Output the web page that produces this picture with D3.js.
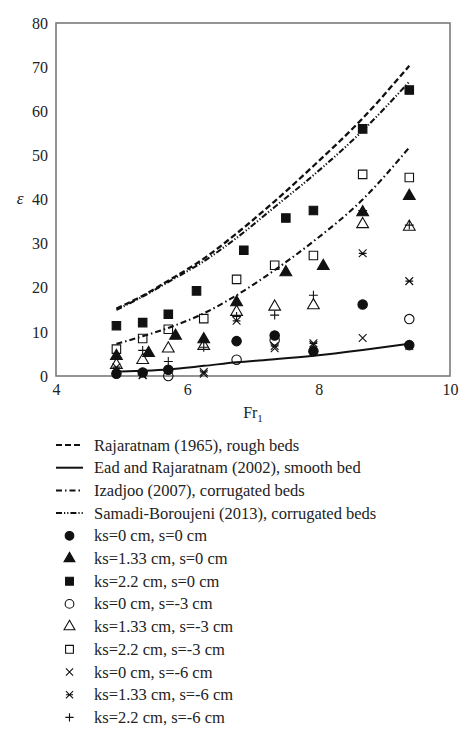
<!DOCTYPE html>
<html>
<head>
<meta charset="utf-8">
<script src="https://cdn.jsdelivr.net/npm/d3@7"></script>
<style>
  body { margin: 0; background: #fff; }
  svg text { font-family: "Liberation Serif", "Times New Roman", Times, "DejaVu Serif", serif; fill: #222; }
</style>
</head>
<body>
<svg class="chart"></svg>
<script>
// Fr1 positions of each run
var fr = [4.92, 5.32, 5.71, 6.25, 6.75, 7.33, 7.92, 8.67, 9.38];

// measured series: [Fr1, eps]
var ks0_s0    = [[4.92,0.5],[5.32,0.8],[5.71,1.4],[6.75,7.9],[7.33,9.2],[7.92,5.6],[8.67,16.2],[9.38,7.0]];
var ks133_s0  = [[4.92,4.5],[5.41,5.2],[5.82,9.1],[6.25,8.3],[6.75,16.7],[7.50,23.5],[8.07,24.9],[8.67,37.1],[9.38,40.8]];
var ks22_s0   = [[4.92,11.4],[5.32,12.1],[5.71,14.0],[6.14,19.3],[6.86,28.5],[7.50,35.8],[7.92,37.5],[8.67,56.0],[9.38,64.8]];
var ks0_s3    = [[5.71,0.0],[6.75,3.7],[7.33,8.1],[9.38,12.9]];
var ks133_s3  = [[4.92,2.5],[5.32,3.6],[5.71,6.2],[6.25,6.8],[6.75,14.5],[7.33,15.7],[7.92,16.0],[8.67,34.4],[9.38,33.8]];
var ks22_s3   = [[4.92,6.1],[5.32,8.5],[5.71,10.6],[6.25,13.0],[6.75,21.9],[7.33,25.1],[7.92,27.3],[8.67,45.7],[9.38,45.0]];
var ks0_s6    = [[5.32,0.3],[6.25,0.5],[7.33,6.3],[7.92,7.0],[8.67,8.6],[9.38,6.8]];
var ks133_s6  = [[4.92,2.0],[5.32,0.2],[6.25,0.9],[6.75,12.5],[7.33,6.8],[7.92,7.4],[8.67,27.8],[9.38,21.5]];
var ks22_s6   = [[5.32,5.8],[5.71,3.3],[6.25,6.5],[6.75,13.5],[7.33,13.8],[7.92,18.3],[8.67,37.5],[9.38,34.2]];

// empirical curves
var rajaratnam = [15.3, 18.2, 21.6, 26.6, 32.3, 39.6, 47.6, 58.4, 70.3];
var ead        = [1.0, 1.2, 1.5, 2.3, 3.1, 3.8, 4.6, 5.9, 7.3];
var izadjoo    = [7.3, 9.0, 10.9, 14.2, 18.3, 24.0, 30.5, 40.0, 51.8];
var samadi     = [15.0, 18.0, 21.3, 26.0, 31.3, 38.3, 45.5, 55.6, 66.7];

var curveNames = ["Rajaratnam (1965), rough beds", "Ead and Rajaratnam (2002), smooth bed",
                  "Izadjoo (2007), corrugated beds", "Samadi-Boroujeni (2013), corrugated beds"];
var seriesNames = ["ks=0 cm, s=0 cm", "ks=1.33 cm, s=0 cm", "ks=2.2 cm, s=0 cm",
                   "ks=0 cm, s=-3 cm", "ks=1.33 cm, s=-3 cm", "ks=2.2 cm, s=-3 cm",
                   "ks=0 cm, s=-6 cm", "ks=1.33 cm, s=-6 cm", "ks=2.2 cm, s=-6 cm"];
var xTicks = [4, 6, 8, 10];
var yTicks = [0, 10, 20, 30, 40, 50, 60, 70, 80];

var W = 474, H = 741;
var serifs = '"Liberation Serif", "Times New Roman", Times, "DejaVu Serif", serif';
var svg = d3.select(".chart").attr("width", W).attr("height", H);

var x = d3.scaleLinear().domain([4, 10]).range([56, 450]);
var y = d3.scaleLinear().domain([0, 80]).range([376, 23]);

var ink = "#111";

// custom symbols
var asterisk = {
  draw: function(ctx, size) {
    var r = Math.sqrt(size) / 2;
    ctx.moveTo(-r, -r); ctx.lineTo(r, r);
    ctx.moveTo(r, -r); ctx.lineTo(-r, r);
    ctx.moveTo(-r, 0); ctx.lineTo(r, 0);
  }
};
var plus = {
  draw: function(ctx, size) {
    var r = Math.sqrt(size) / 2;
    ctx.moveTo(-r, 0); ctx.lineTo(r, 0);
    ctx.moveTo(0, -r); ctx.lineTo(0, r);
  }
};
var times = {
  draw: function(ctx, size) {
    var r = Math.sqrt(size) / 2;
    ctx.moveTo(-r, -r); ctx.lineTo(r, r);
    ctx.moveTo(r, -r); ctx.lineTo(-r, r);
  }
};

var series = [
  {data: ks0_s0,   type: d3.symbolCircle,   size: 70, fill: true},
  {data: ks133_s0, type: d3.symbolTriangle, size: 60, fill: true},
  {data: ks22_s0,  type: d3.symbolSquare,   size: 72, fill: true},
  {data: ks0_s3,   type: d3.symbolCircle,   size: 70, fill: false},
  {data: ks133_s3, type: d3.symbolTriangle, size: 60, fill: false},
  {data: ks22_s3,  type: d3.symbolSquare,   size: 72, fill: false},
  {data: ks0_s6,   type: times,             size: 60, fill: false},
  {data: ks133_s6, type: asterisk,          size: 60, fill: false},
  {data: ks22_s6,  type: plus,              size: 80, fill: false}
];

var curves = [
  {vals: rajaratnam, dash: "6,3", width: 2.3},
  {vals: ead,        dash: null,  width: 2},
  {vals: izadjoo,    dash: "6,3,1.5,3", width: 2.1},
  {vals: samadi,     dash: "6,2,1.2,2,1.2,2", width: 2.1}
];

// frame
svg.append("rect")
  .attr("x", x(4)).attr("y", y(80))
  .attr("width", x(10) - x(4)).attr("height", y(0) - y(80))
  .attr("fill", "none").attr("stroke", "#7a7a7a").attr("stroke-width", 1.6);

// axes
var yAxis = d3.axisLeft(y).tickValues(yTicks).tickSize(0).tickPadding(8).tickFormat(d3.format("d"));
var xAxis = d3.axisBottom(x).tickValues(xTicks).tickSize(0).tickPadding(8).tickFormat(d3.format("d"));

var gy = svg.append("g").attr("transform", "translate(" + x(4) + ",0)").call(yAxis);
var gx = svg.append("g").attr("transform", "translate(0," + y(0) + ")").call(xAxis);
[gx, gy].forEach(function(g) {
  g.attr("font-family", serifs).attr("font-size", 16);
  g.select(".domain").remove();
  g.selectAll("text").attr("fill", "#222");
});

svg.append("text")
  .attr("x", 20).attr("y", y(40) + 4)
  .attr("text-anchor", "middle")
  .style("font-size", "17px").style("font-style", "italic")
  .text("ε");

var xl = svg.append("text")
  .attr("x", 253).attr("y", 418)
  .attr("text-anchor", "middle")
  .style("font-size", "16px");
xl.append("tspan").text("Fr");
xl.append("tspan").attr("dy", 4).style("font-size", "11px").text("1");

// curves
var line = d3.line()
  .x(function(d, i) { return x(fr[i]); })
  .y(function(d) { return y(d); })
  .curve(d3.curveMonotoneX);

curves.forEach(function(c) {
  svg.append("path")
    .datum(c.vals)
    .attr("fill", "none")
    .attr("stroke", ink)
    .attr("stroke-width", c.width)
    .attr("stroke-dasharray", c.dash)
    .attr("d", line);
});

// points
series.forEach(function(s) {
  var sym = d3.symbol().type(s.type).size(s.size);
  svg.append("g").selectAll("path")
    .data(s.data)
    .join("path")
    .attr("transform", function(d) { return "translate(" + x(d[0]) + "," + y(d[1]) + ")"; })
    .attr("d", sym)
    .attr("fill", s.fill ? ink : "none")
    .attr("stroke", ink)
    .attr("stroke-width", 1.1);
});

// legend
var lg = svg.append("g").attr("transform", "translate(0,445)");
var rowH = 22.7;

curves.forEach(function(c, i) {
  lg.append("line")
    .attr("x1", 56).attr("x2", 83)
    .attr("y1", i * rowH).attr("y2", i * rowH)
    .attr("stroke", ink).attr("stroke-width", 2)
    .attr("stroke-dasharray", c.dash);
  lg.append("text")
    .attr("x", 94).attr("y", i * rowH + 5.5)
    .style("font-size", "16.5px")
    .text(curveNames[i]);
});

series.forEach(function(s, j) {
  var yy = (j + 4) * rowH;
  lg.append("path")
    .attr("transform", "translate(69.5," + yy + ")")
    .attr("d", d3.symbol().type(s.type).size(s.size * 0.85)())
    .attr("fill", s.fill ? ink : "none")
    .attr("stroke", ink)
    .attr("stroke-width", 1.1);
  lg.append("text")
    .attr("x", 94).attr("y", yy + 5.5)
    .style("font-size", "16.5px")
    .text(seriesNames[j]);
});
</script>
</body>
</html>
